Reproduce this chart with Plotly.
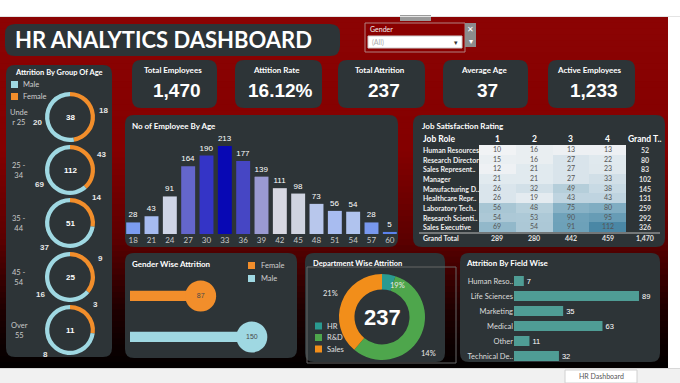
import math
import plotly.graph_objects as go

W, H = 680, 383

# ---------------- data ----------------
kpi_titles = ["Total Employees", "Attition Rate", "Total Attrition", "Average Age", "Active Employees"]
kpi_values = ["1,470", "16.12%", "237", "37", "1,233"]

age_groups = ["Unde<br>r 25", "25 -<br>34", "35 -<br>44", "45 -<br>54", "Over<br>55"]
age_group_female = [18, 43, 14, 9, 3]
age_group_male = [20, 69, 37, 16, 8]
age_group_total = [38, 112, 51, 25, 11]

ages = ["18", "21", "24", "27", "30", "33", "36", "39", "42", "45", "48", "51", "54", "57", "60"]
age_counts = [28, 43, 91, 164, 190, 213, 177, 139, 111, 98, 73, 56, 54, 28, 5]

job_roles = ["Human Resources", "Research Director", "Sales Represent..", "Manager",
             "Manufacturing D..", "Healthcare Repr..", "Laboratory Tech..",
             "Research Scienti..", "Sales Executive"]
sat_levels = ["1", "2", "3", "4"]
sat_matrix = [
    [10, 16, 13, 13],
    [15, 16, 27, 22],
    [12, 21, 27, 23],
    [21, 21, 27, 33],
    [26, 32, 49, 38],
    [26, 19, 43, 43],
    [56, 48, 75, 80],
    [54, 53, 90, 95],
    [69, 54, 91, 112],
]
sat_row_totals = ["52", "80", "83", "102", "145", "131", "259", "292", "326"]
sat_col_totals = ["289", "280", "442", "459", "1,470"]

genders = ["Female", "Male"]
gender_attrition = [87, 150]

departments = ["HR", "R&D", "Sales"]
dept_attrition = [12, 133, 92]
dept_total = "237"
dept_label_text = ["19%", "14%", "21%"]

fields = ["Human Reso..", "Life Sciences", "Marketing", "Medical", "Other", "Technical De.."]
field_attrition = [7, 89, 35, 63, 11, 32]

# ---------------- styles ----------------
PANEL = "#2d3437"
ORANGE = "#f28e2b"
LBLUE = "#9fd8e2"
TEAL = "#4f9d95"
age_bar_colors = ["#7b9cf0", "#a6bbf0", "#cfd5e6", "#6466cc", "#3434c6", "#0808b4",
                  "#4646c4", "#9a9ad2", "#d7d8e2", "#d0d4e0", "#b8c7ec", "#a8bcf0",
                  "#b0c3ee", "#7898ee", "#5c82ee"]
dept_colors = ["#2a9a90", "#4ea64c", "#f28e1a"]


def X(px):
    return px / W


def Y(py):
    return 1 - py / H


shapes = []
annotations = []


def rrect(x0, y0, x1, y1, r, color, line=None):
    rx, ry = r, r
    pts = (
        f"M {X(x0+rx)},{Y(y0)} L {X(x1-rx)},{Y(y0)} Q {X(x1)},{Y(y0)} {X(x1)},{Y(y0+ry)} "
        f"L {X(x1)},{Y(y1-ry)} Q {X(x1)},{Y(y1)} {X(x1-rx)},{Y(y1)} "
        f"L {X(x0+rx)},{Y(y1)} Q {X(x0)},{Y(y1)} {X(x0)},{Y(y1-ry)} "
        f"L {X(x0)},{Y(y0+ry)} Q {X(x0)},{Y(y0)} {X(x0+rx)},{Y(y0)} Z"
    )
    shapes.append(dict(type="path", path=pts, xref="paper", yref="paper",
                       fillcolor=color, line=dict(width=0 if line is None else 1,
                                                  color=line or color), layer="below"))


def rect(x0, y0, x1, y1, color, line=None, lw=1, layer="below"):
    shapes.append(dict(type="rect", xref="paper", yref="paper", x0=X(x0), x1=X(x1),
                       y0=Y(y1), y1=Y(y0), fillcolor=color,
                       line=dict(width=lw if line else 0, color=line or color), layer=layer))


def text(x, y, s, size=8, color="white", bold=False, anchor="center", family="Lato"):
    annotations.append(dict(x=X(x), y=Y(y), xref="paper", yref="paper", text=(f"<b>{s}</b>" if bold else s),
                            showarrow=False, xanchor=anchor, yanchor="middle",
                            font=dict(size=size, color=color, family=family)))


# background: white page, red-to-black dashboard gradient
rect(0, 0, 680, 383, "#ffffff")
stops = [(17, (140, 4, 4)), (150, (132, 0, 0)), (240, (92, 0, 0)), (310, (30, 0, 0)), (368, (2, 0, 0))]
n = 60
for i in range(n):
    y0 = 17 + (368 - 17) * i / n
    y1 = 17 + (368 - 17) * (i + 1) / n
    ym = (y0 + y1) / 2
    for (ya, ca), (yb, cb) in zip(stops[:-1], stops[1:]):
        if ya <= ym <= yb:
            t = (ym - ya) / (yb - ya)
            c = tuple(int(ca[k] + (cb[k] - ca[k]) * t) for k in range(3))
            break
    rect(0, y0, 668, min(y1 + 2, 368), f"rgb{c}")
rect(0, 368, 680, 383, "#f1f1f1")
rect(0, 368, 680, 369, "#d8d8d8")
rect(565, 370, 637, 383, "#ffffff", line="#d0d0d0")
text(601, 376, "HR Dashboard", size=7, color="#555", family="Lato")
rect(400, 15, 431, 21, "#9a9a9a")
rect(0, 16, 680, 17, "#e4e4e4")

# title panel
rrect(5, 24, 340, 56, 10, PANEL)
text(13, 40, "HR ANALYTICS DASHBOARD", size=22, bold=True, anchor="left", family="Lato")

# gender filter
rect(365, 23, 465, 52, "#8a0000", line="#b08080")
text(368, 29, "Gender", size=7, color="#f0f0f0", anchor="left")
rect(368, 36, 462, 48, "#ffffff", line="#cccccc")
text(370, 42, "(All)", size=7, color="#aaaaaa", anchor="left")
text(456, 42, "▾", size=7, color="#333", anchor="center")
rect(465, 23, 476, 47, "#8c8c8c")
text(470.5, 29, "✕", size=8, color="white")
text(470.5, 41, "▾", size=8, color="white")

# KPI cards
kpi_x = [(132, 217), (235, 322), (338, 425), (443, 528), (548, 635)]
for (x0, x1), t, v in zip(kpi_x, kpi_titles, kpi_values):
    rrect(x0, 60, x1, 108, 9, PANEL)
    text((x0 + x1) / 2 - 2, 70, t, size=8, bold=True)
    text((x0 + x1) / 2 + 2, 91, v, size=19, bold=True, family="Liberation Sans")

# left panel: attrition by age group
rrect(6, 65, 112, 357, 9, PANEL)
text(59, 73, "Attrition By Group Of Age", size=7.5, bold=True)
rect(11, 81, 18, 88, LBLUE)
text(21, 84.5, "Male", size=7.5, color="#cfcfcf", anchor="left")
rect(11, 93, 18, 100, ORANGE)
text(21, 96.5, "Female", size=7.5, color="#cfcfcf", anchor="left")

traces = []
centers = [117, 170, 223, 277, 330]
R = 25
for i, cy in enumerate(centers):
    traces.append(go.Pie(values=[age_group_female[i], age_group_male[i]], labels=["Female", "Male"],
                         marker=dict(colors=[ORANGE, LBLUE], line=dict(width=0)), hole=0.83,
                         sort=False, direction="clockwise", rotation=0, textinfo="none",
                         showlegend=False, hoverinfo="skip",
                         domain=dict(x=[X(70 - R), X(70 + R)], y=[Y(cy + R), Y(cy - R)])))
    text(70, cy, str(age_group_total[i]), size=8, bold=True, family="Liberation Sans")
    text(19, cy, age_groups[i], size=7.5, color="#c8c8c8")
    tot = age_group_female[i] + age_group_male[i]
    fa = 2 * math.pi * (age_group_female[i] / 2) / tot
    ma = 2 * math.pi * (age_group_female[i] + age_group_male[i] / 2) / tot
    rl = 33
    text(70 + rl * math.sin(fa) + 1, cy - rl * math.cos(fa) - 4, str(age_group_female[i]),
         size=8, bold=True, color="#e6e6e6", family="Liberation Sans")
    text(70 + rl * math.sin(ma), cy - rl * math.cos(ma) + 3, str(age_group_male[i]),
         size=8, bold=True, color="#e6e6e6", family="Liberation Sans")

# employees by age
rrect(125, 115, 398, 247, 9, PANEL)
text(130, 126, "No of Employee By Age", size=8, bold=True, anchor="left")
traces.append(go.Bar(x=ages, y=age_counts, marker=dict(color=age_bar_colors, line=dict(width=0)),
                     text=age_counts, textposition="outside", cliponaxis=False,
                     textfont=dict(color="white", size=8, family="Liberation Sans"),
                     width=0.76, xaxis="x", yaxis="y", showlegend=False, hoverinfo="skip"))

# job satisfaction
rrect(413, 115, 665, 247, 9, PANEL)
text(420, 126, "Job Satisfaction Rating", size=8, bold=True, anchor="left")
text(421, 139, "Job Role", size=8.5, bold=True, anchor="left")
for j, s in enumerate(sat_levels):
    text(497.4 + j * 36.75, 139, s, size=8.5, bold=True)
text(645, 139, "Grand T..", size=8.5, bold=True)
for i, role in enumerate(job_roles):
    cy = 145 + 9.67 * (i + 0.5)
    text(421, cy, role, size=7, bold=True, color="#eeeeee", anchor="left")
    text(645, cy, sat_row_totals[i], size=7, bold=True, color="#e0e0e0")
shapes.append(dict(type="line", xref="paper", yref="paper", x0=X(419), x1=X(660),
                   y0=Y(233), y1=Y(233), line=dict(color="#bbbbbb", width=1)))
text(421, 238, "Grand Total", size=7, bold=True, color="#eeeeee", anchor="left")
for j, s in enumerate(sat_col_totals):
    text(497.4 + j * 36.75 if j < 4 else 645, 238, s, size=7, bold=True, color="#e0e0e0")
traces.append(go.Heatmap(z=sat_matrix, x=sat_levels, y=list(range(len(job_roles))),
                         colorscale=[[0, "#f1f3f5"], [0.25, "#cddde6"], [0.5, "#9fc0d0"],
                                     [0.75, "#75a6bd"], [1, "#4a87a5"]],
                         showscale=False, texttemplate="%{z}", textfont=dict(size=7, color="#555"),
                         xaxis="x2", yaxis="y2", hoverinfo="skip"))

# gender wise attrition
rrect(125, 253, 297, 358, 9, PANEL)
text(130, 264, "Gender Wise Attrition", size=8, bold=True, anchor="left")
rect(248, 262, 255, 269, ORANGE)
text(259, 265.5, "Female", size=7.5, color="#cfcfcf", anchor="left")
rect(248, 275, 255, 282, LBLUE)
text(259, 278.5, "Male", size=7.5, color="#cfcfcf", anchor="left")
traces.append(go.Bar(x=gender_attrition, y=genders, orientation="h", width=0.25,
                     marker=dict(color=[ORANGE, LBLUE], line=dict(width=0)),
                     xaxis="x3", yaxis="y3", showlegend=False, hoverinfo="skip"))
traces.append(go.Scatter(x=gender_attrition, y=genders, mode="markers+text",
                         marker=dict(size=31, color=[ORANGE, LBLUE], line=dict(width=0)),
                         text=gender_attrition, textposition="middle center",
                         textfont=dict(size=7, color="#4a4a4a", family="Liberation Sans"),
                         xaxis="x3", yaxis="y3", showlegend=False, hoverinfo="skip", cliponaxis=False))

# department wise attrition
rrect(305, 253, 445, 362, 9, PANEL)
rect(307, 267, 456, 363, "rgba(0,0,0,0)", line="#666666", lw=1)
text(311, 263, "Department Wise Attrition", size=7.5, bold=True, anchor="left")
dcx, dcy, dr = 382, 317, 43
traces.append(go.Pie(values=dept_attrition, labels=departments, hole=0.64, sort=False,
                     direction="clockwise", rotation=0, textinfo="none", showlegend=False,
                     hoverinfo="skip", marker=dict(colors=dept_colors, line=dict(width=0)),
                     domain=dict(x=[X(dcx - dr), X(dcx + dr)], y=[Y(dcy + dr), Y(dcy - dr)])))
text(dcx, dcy, dept_total, size=22, bold=True, family="Liberation Sans")
text(397, 285, dept_label_text[0], size=7.5, color="#e8e8e8")
text(428, 353, dept_label_text[1], size=7.5, color="#e8e8e8")
text(330, 293, dept_label_text[2], size=7.5, color="#e8e8e8")
for k, d in enumerate(departments):
    yy = 326 + k * 11.5
    rect(315, yy - 3.5, 322, yy + 3.5, dept_colors[k])
    text(325, yy, d, size=7.5, color="#e0e0e0", anchor="left")

# attrition by field
rrect(460, 253, 660, 362, 9, PANEL)
text(464, 263, "Attrition By Field Wise", size=8, bold=True, anchor="left")
traces.append(go.Bar(x=field_attrition, y=fields, orientation="h", width=0.66,
                     marker=dict(color=TEAL, line=dict(width=0)), text=field_attrition,
                     textposition="outside", cliponaxis=False,
                     textfont=dict(size=7.5, color="white", family="Liberation Sans"),
                     xaxis="x4", yaxis="y4", showlegend=False, hoverinfo="skip"))

fig = go.Figure(traces)
noax = dict(showgrid=False, zeroline=False, showline=False, fixedrange=True)
fig.update_layout(
    width=W, height=H, margin=dict(l=0, r=0, t=0, b=0),
    paper_bgcolor="white", plot_bgcolor="rgba(0,0,0,0)",
    shapes=shapes, annotations=annotations, showlegend=False,
    xaxis=dict(noax, domain=[X(124), X(399)], type="category", tickfont=dict(size=8, color="#c8c8c8"),
               ticks="", ticklen=0, anchor="y"),
    yaxis=dict(noax, domain=[Y(234), Y(137)], range=[0, 235], showticklabels=False, anchor="x"),
    xaxis2=dict(noax, domain=[X(479), X(626)], showticklabels=False, anchor="y2"),
    yaxis2=dict(noax, domain=[Y(232), Y(145)], autorange="reversed", showticklabels=False, anchor="x2"),
    xaxis3=dict(noax, domain=[X(130), X(290)], range=[0, 197], showticklabels=False, anchor="y3"),
    yaxis3=dict(noax, domain=[Y(357.5), Y(275.5)], range=[1.5, -0.5], showticklabels=False, anchor="x3"),
    xaxis4=dict(noax, domain=[X(514), X(655)], range=[0, 100.4], showticklabels=False, anchor="y4"),
    yaxis4=dict(noax, domain=[Y(363.5), Y(273.5)], autorange="reversed", anchor="x4",
                tickfont=dict(size=7.5, color="#dcdcdc", family="Lato"), ticks="", ticklen=0),
    font=dict(family="Lato"),
)
fig.write_html("out.html", config={"displayModeBar": False},
               post_script="document.body.style.margin='0';document.body.style.overflow='hidden';")
